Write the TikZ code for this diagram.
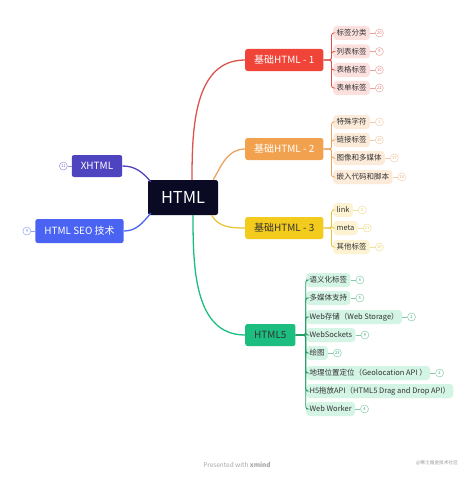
\documentclass[tikz,border=0pt]{standalone}
\usepackage{fontspec}
\setmainfont{Noto Sans CJK SC}
\usetikzlibrary{positioning}
\definecolor{rootnavy}{HTML}{0B0A24}
\definecolor{xpurple}{HTML}{4E44C0}
\definecolor{seoblue}{HTML}{4A63F2}
\definecolor{redtopic}{HTML}{F04438}
\definecolor{redlight}{HTML}{FCE0DE}
\definecolor{redline}{HTML}{D9534C}
\definecolor{orangetopic}{HTML}{F2A24F}
\definecolor{orangelight}{HTML}{FDEBDA}
\definecolor{orangeline}{HTML}{E9A560}
\definecolor{yellowtopic}{HTML}{F3CB1D}
\definecolor{yellowlight}{HTML}{FDF3D3}
\definecolor{yellowline}{HTML}{E8C43A}
\definecolor{greentopic}{HTML}{1BBE7E}
\definecolor{greenlight}{HTML}{D4F4E6}
\definecolor{greenline}{HTML}{1F9E62}
\definecolor{subtext}{HTML}{333333}

\begin{document}
\begin{tikzpicture}[x=0.03cm,y=-0.03cm,
    root/.style={fill=rootnavy, text=white, rounded corners=2pt, minimum width=2.1cm, minimum height=1.05cm, font=\fontsize{14}{14}\selectfont},
    topic/.style={rounded corners=2pt, minimum height=0.66cm, inner xsep=0.27cm, font=\fontsize{8.5}{9}\selectfont},
    sub/.style={rounded corners=3pt, minimum height=0.42cm, inner xsep=0.1cm, inner ysep=0pt, text=subtext, font=\fontsize{6.4}{7}\selectfont, anchor=west},
    cnt/.style={circle, draw, fill=white, inner sep=0pt, minimum size=0.24cm, line width=0.4pt, font=\fontsize{3.5}{4}\selectfont},
    link/.style={line width=1.1pt},
    twig/.style={line width=0.7pt, rounded corners=2pt}]
\useasboundingbox[fill=white] (0,0) rectangle (474,478);

% central topic
\node[root] (html) at (183,197.5) {HTML};

% left side
\node[topic, fill=xpurple, text=white, minimum height=0.66cm] (xhtml) at (97,166) {XHTML};
\node[topic, fill=seoblue, text=white, minimum height=0.72cm] (seo) at (79.5,231) {HTML SEO 技术};
\node[cnt, draw=xpurple!60, text=xpurple!80, left=0.12cm of xhtml] (cx) {11};
\node[cnt, draw=seoblue!60, text=seoblue!80, left=0.12cm of seo] (cs) {9};
\draw[xpurple, link] (xhtml.east) to[out=0,in=130] ([xshift=0.09cm,yshift=-0.06cm]html.north west);
\draw[seoblue, link] (seo.east) to[out=0,in=-130] ([xshift=0.09cm,yshift=0.06cm]html.south west);
\draw[xpurple!60, line width=0.4pt] (cx) -- (xhtml);
\draw[seoblue!60, line width=0.4pt] (cs) -- (seo);

% main branches
\node[topic, fill=redtopic, text=white, anchor=west] (t1) at (245,60) {基础HTML - 1};
\node[topic, fill=orangetopic, text=white, anchor=west] (t2) at (245,149) {基础HTML - 2};
\node[topic, fill=yellowtopic, text=subtext, anchor=west] (t3) at (245,228) {基础HTML - 3};
\node[topic, fill=greentopic, text=subtext, anchor=west] (t4) at (245,335) {HTML5};

\draw[redline, link] ([xshift=0.27cm]html.north) to[out=90,in=180] (t1.west);
\draw[orangeline, link] ([xshift=-0.15cm]html.north east) to[out=60,in=180] (t2.west);
\draw[yellowline, link] ([xshift=-0.2cm]html.south east) to[out=-60,in=180] (t3.west);
\draw[greentopic, link] ([xshift=0.3cm]html.south) to[out=-90,in=180] (t4.west);

% Basic HTML 1
\node[sub, fill=redlight] (s11) at (333,33) {标签分类};
\node[sub, fill=redlight] (s12) at (333,51.5) {列表标签};
\node[sub, fill=redlight] (s13) at (333,70) {表格标签};
\node[sub, fill=redlight] (s14) at (333,88) {表单标签};
\foreach \i/\n in {1/20,2/4,3/10,4/22}{
  \node[cnt, draw=redline!55, text=redline!80, right=0.15cm of s1\i] (c1\i) {\n};
  \draw[redline!55, line width=0.4pt] (s1\i) -- (c1\i);
  \draw[redline, twig] (t1.east) -- ++(8,0) |- (s1\i.west);
}

% Basic HTML 2
\node[sub, fill=orangelight] (s21) at (333,122) {特殊字符};
\node[sub, fill=orangelight] (s22) at (333,140) {链接标签};
\node[sub, fill=orangelight] (s23) at (333,158) {图像和多媒体};
\node[sub, fill=orangelight] (s24) at (333,177) {嵌入代码和脚本};
\foreach \i/\n in {1/1,2/10,3/17,4/10}{
  \node[cnt, draw=orangeline!55, text=orangeline!90, right=0.15cm of s2\i] (c2\i) {\n};
  \draw[orangeline!55, line width=0.4pt] (s2\i) -- (c2\i);
  \draw[orangeline, twig] (t2.east) -- ++(8,0) |- (s2\i.west);
}

% Basic HTML 3
\node[sub, fill=yellowlight] (s31) at (333,210) {link};
\node[sub, fill=yellowlight] (s32) at (333,228) {meta};
\node[sub, fill=yellowlight] (s33) at (333,247) {其他标签};
\foreach \i/\n in {1/5,2/21,3/10}{
  \node[cnt, draw=yellowline!55, text=yellowline!90, right=0.15cm of s3\i] (c3\i) {\n};
  \draw[yellowline!55, line width=0.4pt] (s3\i) -- (c3\i);
  \draw[yellowline, twig] (t3.east) -- ++(8,0) |- (s3\i.west);
}

% HTML5
\node[sub, fill=greenlight] (s41) at (306,280) {语义化标签};
\node[sub, fill=greenlight] (s42) at (306,298) {多媒体支持};
\node[sub, fill=greenlight] (s43) at (306,317) {Web存储（Web Storage）};
\node[sub, fill=greenlight] (s44) at (306,335) {WebSockets};
\node[sub, fill=greenlight] (s45) at (306,353) {绘图};
\node[sub, fill=greenlight] (s46) at (306,373) {地理位置定位（Geolocation API ）};
\node[sub, fill=greenlight] (s47) at (306,391) {H5拖放API（HTML5 Drag and Drop API）};
\node[sub, fill=greenlight] (s48) at (306,409) {Web Worker};
\foreach \i/\n in {1/4,2/5,3/2,4/9,5/23,6/2,8/4}{
  \node[cnt, draw=greenline!55, text=greenline!90, right=0.15cm of s4\i] (c4\i) {\n};
  \draw[greenline!55, line width=0.4pt] (s4\i) -- (c4\i);
}
\foreach \i in {1,...,8}
  \draw[greenline, twig] (t4.east) -- ++(10,0) |- (s4\i.west);

% footer
\node[text=black!35, font=\fontsize{5.5}{6}\selectfont] (credit) at (237,465) {Presented with \textbf{xmind}};
\node[text=black!40, font=\fontsize{4}{5}\selectfont] (mark) at (437,463) {@稀土掘金技术社区};
\end{tikzpicture}
\end{document}
